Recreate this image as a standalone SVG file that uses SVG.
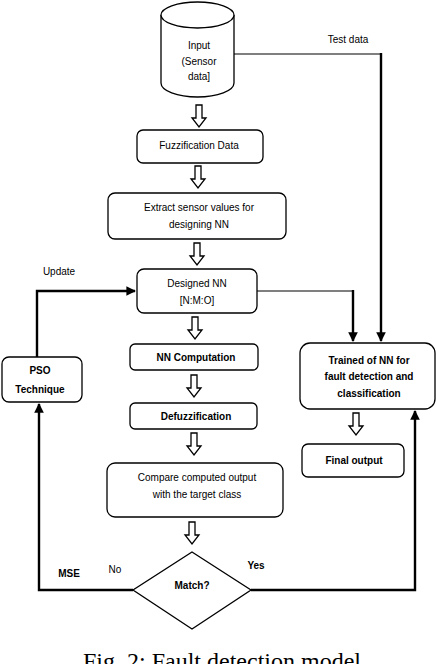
<svg xmlns="http://www.w3.org/2000/svg" width="436" height="664" viewBox="0 0 436 664">
<defs>
<style>
.box{fill:#fff;stroke:#000;stroke-width:1.3}
.t{font-family:"Liberation Sans",Arial,sans-serif;font-size:10px;fill:#000;text-anchor:middle}
.b{font-weight:bold}
.thin{fill:none;stroke:#000;stroke-width:1.2}
.thick{fill:none;stroke:#000;stroke-width:2.4}
.hollow{fill:#fff;stroke:#000;stroke-width:1.3}
</style>
<marker id="ah" viewBox="0 0 10 10" refX="9" refY="5" markerWidth="4" markerHeight="4" orient="auto" markerUnits="strokeWidth">
<path d="M0,0 L10,5 L0,10 z" fill="#000"/>
</marker>
<path id="ha" d="M-3,0 L3,0 L3,13 L7,13 L0,22 L-7,13 L-3,13 z"/>
</defs>
<rect width="436" height="664" fill="#fff"/>

<g id="connectors">
<use href="#ha" x="199" y="105" class="hollow"/>
<use href="#ha" x="198" y="166" class="hollow"/>
<use href="#ha" x="197" y="243" class="hollow"/>
<use href="#ha" x="195" y="317" class="hollow"/>
<use href="#ha" x="194" y="375" class="hollow"/>
<use href="#ha" x="194" y="433" class="hollow"/>
<use href="#ha" x="192" y="522" class="hollow"/>
<use href="#ha" x="356" y="413" class="hollow"/>
<path class="thin" d="M234,54 H381"/>
<path class="thick" d="M381,53 V341" marker-end="url(#ah)"/>
<path class="thin" d="M257,291 H353"/>
<path class="thick" d="M353,290 V341" marker-end="url(#ah)"/>
<path class="thick" d="M37,357 V291 H135" marker-end="url(#ah)"/>
<path class="thick" d="M133,590 H39 V404" marker-end="url(#ah)"/>
<path class="thick" d="M251,590 H415 V411" marker-end="url(#ah)"/>
<text class="t" x="348" y="43">Test data</text>
<text class="t" x="59" y="275">Update</text>
<text class="t b" x="69" y="577">MSE</text>
<text class="t" x="115" y="573">No</text>
<text class="t b" x="256" y="569">Yes</text>
</g>

<g id="input">
<path class="box" d="M161,15 V83 A36.5,14 0 0 0 234,83 V15"/>
<ellipse class="box" cx="197.5" cy="15" rx="36.5" ry="13"/>
<text class="t" x="199" y="49">Input</text>
<text class="t" x="199" y="65">(Sensor</text>
<text class="t" x="199" y="80">data]</text>
</g>

<g id="fuzzification">
<rect class="box" x="137" y="130" width="126" height="33" rx="6"/>
<text class="t" x="199" y="149">Fuzzification Data</text>
</g>

<g id="extract">
<rect class="box" x="108" y="193" width="178" height="46" rx="7"/>
<text class="t" x="199" y="211">Extract sensor values for</text>
<text class="t" x="199" y="228">designing NN</text>
</g>

<g id="designed">
<rect class="box" x="137" y="269" width="120" height="44" rx="7"/>
<text class="t" x="197" y="287">Designed NN</text>
<text class="t" x="197" y="304">[N:M:O]</text>
</g>

<g id="pso">
<rect class="box" x="2" y="357" width="80" height="45" rx="7"/>
<text class="t b" x="40" y="374">PSO</text>
<text class="t b" x="40" y="393">Technique</text>
</g>

<g id="nncomp">
<rect class="box" x="130" y="344" width="128" height="26" rx="5"/>
<text class="t b" x="196" y="361">NN Computation</text>
</g>

<g id="defuzz">
<rect class="box" x="130" y="403" width="127" height="26" rx="5"/>
<text class="t b" x="196" y="420">Defuzzification</text>
</g>

<g id="compare">
<rect class="box" x="107" y="463" width="176" height="54" rx="8"/>
<text class="t" x="197" y="481">Compare computed output</text>
<text class="t" x="197" y="498">with the target class</text>
</g>

<g id="match">
<path class="box" d="M192,552 L251,590 L192,629 L133,590 z"/>
<text class="t b" x="192" y="589">Match?</text>
</g>

<g id="trained">
<rect class="box" x="300" y="343" width="135" height="66" rx="10"/>
<text class="t b" x="369" y="364">Trained of NN for</text>
<text class="t b" x="369" y="380">fault detection and</text>
<text class="t b" x="369" y="397">classification</text>
</g>

<g id="final">
<rect class="box" x="302" y="444" width="102" height="33" rx="6"/>
<text class="t b" x="354" y="464">Final output</text>
</g>

<text x="222" y="669" style="font-family:'Liberation Serif','Times New Roman',serif;font-size:24px;text-anchor:middle;fill:#000">Fig. 2: Fault detection model</text>
</svg>
